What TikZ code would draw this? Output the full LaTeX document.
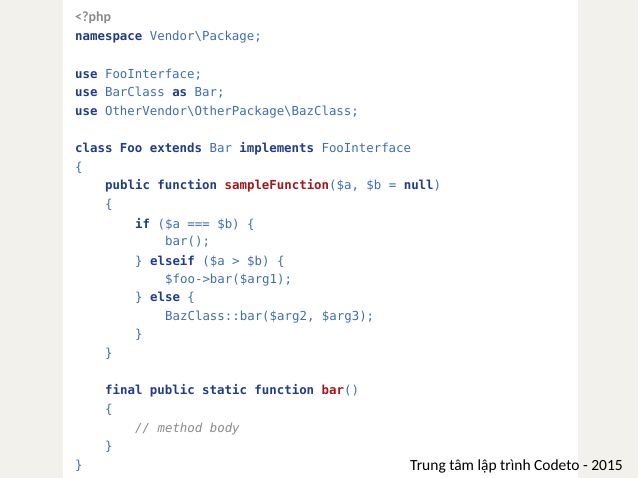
\documentclass[tikz,border=0pt]{standalone}
\usepackage{fontspec}
\setmainfont{Carlito}
\newfontfamily\code{DejaVu Sans Mono}[Scale=1]
\definecolor{kw}{HTML}{1F3C88}
\definecolor{id}{HTML}{3D6FB0}
\definecolor{fn}{HTML}{A01818}
\definecolor{cm}{HTML}{8A8A8A}
\definecolor{side}{HTML}{F3F1EC}
\newcommand{\K}[1]{\textcolor{kw}{\bfseries #1}}
\newcommand{\F}[1]{\textcolor{fn}{\bfseries #1}}
\begin{document}
\begin{tikzpicture}[x=1pt,y=-1pt,
  ln/.style={anchor=west,inner sep=0pt,font=\code\fontsize{12.4}{14}\selectfont,text=id}]
\fill[side] (0,0) rectangle (638,478);
\fill[white] (63,0) rectangle (578,478);
\def\X{75}
\node[ln] (l1) at (\X,18) {\textcolor{cm}{\rmfamily\bfseries\fontsize{14}{16}\selectfont <?php}};
\node[ln] (l2) at (\X,37) {\K{namespace} Vendor\textbackslash Package;};
\node[ln] (l4) at (\X,75) {\K{use} FooInterface;};
\node[ln] (l5) at (\X,93) {\K{use} BarClass \K{as} Bar;};
\node[ln] (l6) at (\X,112) {\K{use} OtherVendor\textbackslash OtherPackage\textbackslash BazClass;};
\node[ln] (l8) at (\X,149) {\K{class Foo extends} Bar \K{implements} FooInterface};
\node[ln] (l9) at (\X,168) {\{};
\node[ln] (l10) at (\X,186) {\makebox[30pt][l]{}\K{public function} \F{sampleFunction}(\$a, \$b = \K{null})};
\node[ln] (l11) at (\X,205) {\makebox[30pt][l]{}\{};
\node[ln] (l12) at (\X,224) {\makebox[60pt][l]{}\K{if} (\$a === \$b) \{};
\node[ln] (l13) at (\X,242) {\makebox[90pt][l]{}bar();};
\node[ln] (l14) at (\X,261) {\makebox[60pt][l]{}\} \K{elseif} (\$a > \$b) \{};
\node[ln] (l15) at (\X,280) {\makebox[90pt][l]{}\$foo->bar(\$arg1);};
\node[ln] (l16) at (\X,298) {\makebox[60pt][l]{}\} \K{else} \{};
\node[ln] (l17) at (\X,317) {\makebox[90pt][l]{}BazClass::bar(\$arg2, \$arg3);};
\node[ln] (l18) at (\X,335) {\makebox[60pt][l]{}\}};
\node[ln] (l19) at (\X,354) {\makebox[30pt][l]{}\}};
\node[ln] (l21) at (\X,391) {\makebox[30pt][l]{}\K{final public static function} \F{bar}()};
\node[ln] (l22) at (\X,410) {\makebox[30pt][l]{}\{};
\node[ln] (l23) at (\X,429) {\makebox[60pt][l]{}\textcolor{cm}{\itshape // method body}};
\node[ln] (l24) at (\X,447) {\makebox[30pt][l]{}\}};
\node[ln] (l25) at (\X,466) {\}};
\node[anchor=east,inner sep=0pt,font=\fontsize{15.5}{17}\selectfont] (ft) at (623,466) {Trung tâm lập trình Codeto - 2015};
\end{tikzpicture}
\end{document}
